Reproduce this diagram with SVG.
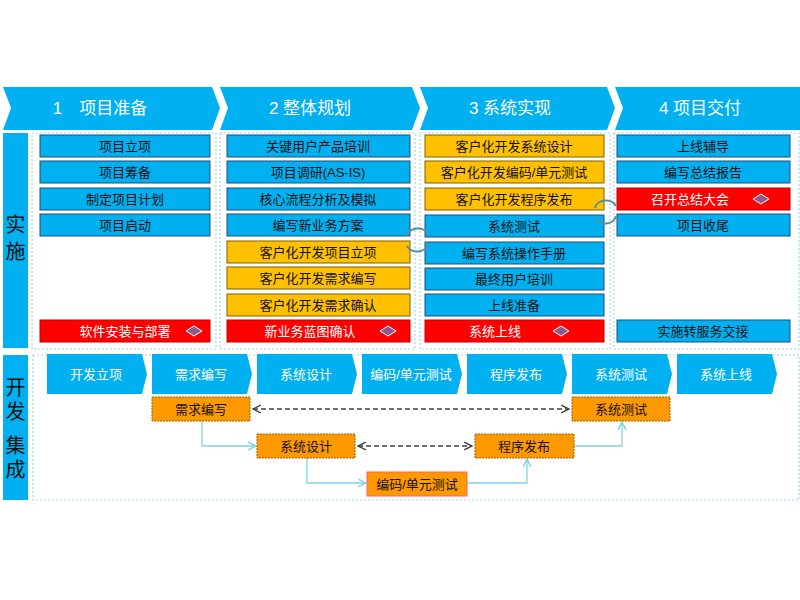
<svg xmlns="http://www.w3.org/2000/svg" width="800" height="600" viewBox="0 0 800 600">
<style>
text{font-family:"Liberation Sans","Noto Sans CJK SC",sans-serif;text-anchor:middle;dominant-baseline:central}
.hd{fill:#00b0f0}
.ht{fill:#fff;font-size:17px}
.b{fill:#00b0f0;stroke:#1f4e79;stroke-width:1}
.y{fill:#ffc000;stroke:#7f6000;stroke-width:1}
.r{fill:#ff0000;stroke:#c00000;stroke-width:1}
.t{font-size:13px;fill:#111}
.tw{font-size:13px;fill:#fff}
.dot{fill:none;stroke:#9dd9e6;stroke-width:1.2;stroke-dasharray:2 2}
.side{fill:#00b0f0}
.st{font-size:20px;fill:#111}
.o{fill:#ff9900;stroke:#a06000;stroke-width:1;stroke-dasharray:2 1}
.ch{fill:#00b0f0}
.ct{font-size:13px;fill:#fff}
.dia{fill:#8e5a8a;stroke:#fff;stroke-width:1}
.cn{fill:none;stroke:#7fd6e0;stroke-width:1.3}
.ds{fill:none;stroke:#444;stroke-width:1.3;stroke-dasharray:5 3}
</style>
<defs>
<marker id="a" markerWidth="8" markerHeight="8" refX="7" refY="4" orient="auto-start-reverse"><path d="M1,1 L7,4 L1,7" fill="none" stroke="#444" stroke-width="1.2"/></marker>
<marker id="c" markerWidth="8" markerHeight="8" refX="7" refY="4" orient="auto"><path d="M1,1 L7,4 L1,7" fill="none" stroke="#7fd6e0" stroke-width="1.2"/></marker>
</defs>
<rect width="800" height="600" fill="#fff"/>
<g id="header">
<path class="hd" d="M3,87 H212 L220,108 L212,130 H3 L11,108 Z"/>
<path class="hd" d="M220,87 H412 L420,108 L412,130 H220 L228,108 Z"/>
<path class="hd" d="M420,87 H607 L615,108 L607,130 H420 L428,108 Z"/>
<path class="hd" d="M615,87 H800 V130 H615 L623,108 Z"/>
<text class="ht" x="100" y="108">1　项目准备</text>
<text class="ht" x="310" y="108">2  整体规划</text>
<text class="ht" x="510" y="108">3 系统实现</text>
<text class="ht" x="700" y="108">4  项目交付</text>
</g>
<g id="sidebars">
<rect class="side" x="3" y="133" width="25" height="215"/>
<text class="st" x="15.5" y="225">实</text><text class="st" x="15.5" y="252">施</text>
<rect class="side" x="3" y="355" width="25" height="145"/>
<text class="st" x="15.5" y="388">开</text><text class="st" x="15.5" y="412">发</text>
<text class="st" x="15.5" y="446">集</text><text class="st" x="15.5" y="470">成</text>
</g>
<g id="frames">
<rect class="dot" x="32" y="133" width="184" height="216"/>
<rect class="dot" x="220" y="133" width="195" height="216"/>
<rect class="dot" x="420" y="133" width="190" height="216"/>
<rect class="dot" x="614" y="133" width="185" height="216"/>
<rect class="dot" x="33" y="355" width="766" height="145"/>
</g>
<g id="col1">
<rect class="b" x="40" y="135" width="170" height="22"/><text class="t" x="125" y="146">项目立项</text>
<rect class="b" x="40" y="161" width="170" height="22"/><text class="t" x="125" y="172">项目筹备</text>
<rect class="b" x="40" y="188" width="170" height="22"/><text class="t" x="125" y="199">制定项目计划</text>
<rect class="b" x="40" y="214" width="170" height="22"/><text class="t" x="125" y="225">项目启动</text>
<rect class="r" x="40" y="320" width="170" height="22"/><text class="tw" x="125" y="331">软件安装与部署</text>
<path class="dia" d="M186,331 L194,326 L202,331 L194,336 Z"/>
</g>
<g id="col2">
<rect class="b" x="227" y="135" width="183" height="22"/><text class="t" x="318" y="146">关键用户产品培训</text>
<rect class="b" x="227" y="161" width="183" height="22"/><text class="t" x="318" y="172">项目调研(AS-IS)</text>
<rect class="b" x="227" y="188" width="183" height="22"/><text class="t" x="318" y="199">核心流程分析及模拟</text>
<rect class="b" x="227" y="214" width="183" height="22"/><text class="t" x="318" y="225">编写新业务方案</text>
<rect class="y" x="227" y="241" width="183" height="22"/><text class="t" x="318" y="252">客户化开发项目立项</text>
<rect class="y" x="227" y="267" width="183" height="22"/><text class="t" x="318" y="278">客户化开发需求编写</text>
<rect class="y" x="227" y="294" width="183" height="22"/><text class="t" x="318" y="305">客户化开发需求确认</text>
<rect class="r" x="227" y="320" width="183" height="22"/><text class="tw" x="310" y="331">新业务蓝图确认</text>
<path class="dia" d="M380,331 L388,326 L396,331 L388,336 Z"/>
</g>
<g id="col3">
<rect class="y" x="425" y="135" width="179" height="22"/><text class="t" x="514" y="146">客户化开发系统设计</text>
<rect class="y" x="425" y="161" width="179" height="22"/><text class="t" x="514" y="172">客户化开发编码/单元测试</text>
<rect class="y" x="425" y="188" width="179" height="22"/><text class="t" x="514" y="199">客户化开发程序发布</text>
<rect class="b" x="425" y="215" width="179" height="22"/><text class="t" x="514" y="226">系统测试</text>
<rect class="b" x="425" y="242" width="179" height="22"/><text class="t" x="514" y="253">编写系统操作手册</text>
<rect class="b" x="425" y="268" width="179" height="22"/><text class="t" x="514" y="279">最终用户培训</text>
<rect class="b" x="425" y="294" width="179" height="22"/><text class="t" x="514" y="305">上线准备</text>
<rect class="r" x="425" y="320" width="179" height="22"/><text class="tw" x="495" y="331">系统上线</text>
<path class="dia" d="M553,331 L561,326 L569,331 L561,336 Z"/>
</g>
<g id="col4">
<rect class="b" x="617" y="135" width="173" height="22"/><text class="t" x="703" y="146">上线辅导</text>
<rect class="b" x="617" y="161" width="173" height="22"/><text class="t" x="703" y="172">编写总结报告</text>
<rect class="r" x="617" y="188" width="173" height="22"/><text class="tw" x="690" y="199">召开总结大会</text>
<path class="dia" d="M753,199 L761,194 L769,199 L761,204 Z"/>
<rect class="b" x="617" y="214" width="173" height="22"/><text class="t" x="703" y="225">项目收尾</text>
<rect class="b" x="617" y="320" width="173" height="22"/><text class="t" x="703" y="331">实施转服务交接</text>
</g>
<g id="cycles" fill="none" stroke="#5a8f9a" stroke-width="2">
<path d="M407,236 A11,9 0 0 1 428,234"/><path d="M428,244 A11,9 0 0 1 407,246"/>
<path d="M595,208 A11,9 0 0 1 616,206"/><path d="M616,216 A11,9 0 0 1 595,218"/>
</g>
<g id="devchevrons">
<path class="ch" d="M47,354 H142 L147,374 L142,394 H47 Z"/><text class="ct" x="96" y="374">开发立项</text>
<path class="ch" d="M152,354 H247 L252,374 L247,394 H152 Z"/><text class="ct" x="201" y="374">需求编写</text>
<path class="ch" d="M257,354 H352 L357,374 L352,394 H257 Z"/><text class="ct" x="306" y="374">系统设计</text>
<path class="ch" d="M362,354 H457 L462,374 L457,394 H362 Z"/><text class="ct" x="411" y="374">编码/单元测试</text>
<path class="ch" d="M467,354 H562 L567,374 L562,394 H467 Z"/><text class="ct" x="516" y="374">程序发布</text>
<path class="ch" d="M572,354 H667 L672,374 L667,394 H572 Z"/><text class="ct" x="621" y="374">系统测试</text>
<path class="ch" d="M677,354 H772 L777,374 L772,394 H677 Z"/><text class="ct" x="726" y="374">系统上线</text>
</g>
<g id="connectors">
<path class="cn" d="M202,421 V446 H256" marker-end="url(#c)"/>
<path class="cn" d="M307,458 V483 H366" marker-end="url(#c)"/>
<path class="cn" d="M467,483 H527 V459" marker-end="url(#c)"/>
<path class="cn" d="M574,446 H622 V422" marker-end="url(#c)"/>
<path class="ds" d="M253,409 H569" marker-start="url(#a)" marker-end="url(#a)"/>
<path class="ds" d="M358,446 H472" marker-start="url(#a)" marker-end="url(#a)"/>
</g>
<g id="devboxes">
<rect class="o" x="152" y="397" width="98" height="24"/><text class="t" x="201" y="409">需求编写</text>
<rect class="o" x="572" y="397" width="98" height="24"/><text class="t" x="621" y="409">系统测试</text>
<rect class="o" x="257" y="434" width="98" height="24"/><text class="t" x="306" y="446">系统设计</text>
<rect class="o" x="475" y="434" width="99" height="24"/><text class="t" x="524" y="446">程序发布</text>
<rect x="367" y="472" width="100" height="24" fill="#ff9900" stroke="#ff6060"/><text class="t" x="417" y="484">编码/单元测试</text>
</g>
</svg>
